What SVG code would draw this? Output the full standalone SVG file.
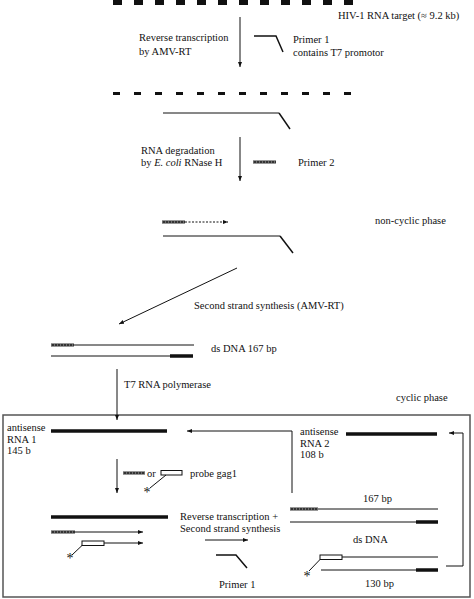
<svg xmlns="http://www.w3.org/2000/svg" width="474" height="599" viewBox="0 0 474 599">
<style>
.t{font-family:"Liberation Serif","Times New Roman",serif;font-size:10.5px;fill:#111}
.ast{font-family:"Liberation Serif","Times New Roman",serif;font-size:14px;fill:#111}
.ln{stroke:#111;stroke-width:1;fill:none}
.pr{stroke:#111;stroke-width:1.5;fill:none}
.thick{stroke:#111;stroke-width:3.5;fill:none}
.hatch{stroke:#333;stroke-width:3;fill:none}
.hdots{stroke:#aaa;stroke-width:1;stroke-dasharray:1 2;fill:none}
.probe{fill:#fff;stroke:#111;stroke-width:1}
.box{fill:none;stroke:#555;stroke-width:1.5}
.arr{stroke:#111;stroke-width:1;fill:none;marker-end:url(#ah)}
</style>
<defs>
<marker id="ah" viewBox="0 0 10 10" refX="10" refY="5" markerWidth="5" markerHeight="5" markerUnits="userSpaceOnUse" orient="auto"><path d="M0,1 L10,5 L0,9 z" fill="#111"/></marker>
</defs>
<rect width="474" height="599" fill="#fff"/>
<rect class="box" x="3" y="415" width="467" height="182"/>

<g id="rna-target">
<g fill="#111">
<rect x="113" y="0" width="9" height="5"/><rect x="134" y="0" width="9" height="5"/><rect x="155" y="0" width="9" height="5"/><rect x="176" y="0" width="9" height="5"/><rect x="197" y="0" width="9" height="5"/><rect x="218" y="0" width="9" height="5"/><rect x="239" y="0" width="9" height="5"/><rect x="260" y="0" width="9" height="5"/><rect x="281" y="0" width="9" height="5"/><rect x="302" y="0" width="9" height="5"/><rect x="323" y="0" width="9" height="5"/><rect x="344" y="0" width="9" height="5"/>
</g>
<text class="t" x="338" y="19">HIV-1 RNA target (≈ 9.2 kb)</text>
</g>

<g id="primer1-top">
<path class="pr" d="M254,36 H276 L283,52"/>
<text class="t" x="293" y="43">Primer 1</text>
<text class="t" x="293" y="56">contains T7 promotor</text>
</g>

<g id="hybrid">
<g fill="#111">
<rect x="113" y="92" width="7" height="3"/><rect x="134" y="92" width="7" height="3"/><rect x="155" y="92" width="7" height="3"/><rect x="176" y="92" width="7" height="3"/><rect x="197" y="92" width="7" height="3"/><rect x="218" y="92" width="7" height="3"/><rect x="239" y="92" width="7" height="3"/><rect x="260" y="92" width="7" height="3"/><rect x="281" y="92" width="7" height="3"/><rect x="302" y="92" width="7" height="3"/><rect x="323" y="92" width="7" height="3"/><rect x="344" y="92" width="7" height="3"/>
</g>
<path class="ln" d="M163,113 H279"/>
<path class="pr" d="M279,113 L290,129"/>
</g>

<g id="primer2">
<path class="hatch" d="M253,162 H276"/>
<path class="hdots" d="M253,162 H276"/>
<text class="t" x="298" y="166">Primer 2</text>
</g>

<g id="single-strand">
<path class="hatch" d="M162,222 H185"/>
<path class="hdots" d="M162,222 H185"/>
<path class="arr" d="M185,222 H228" stroke-dasharray="2 1.5"/>
<path class="ln" d="M163,236 H280"/>
<path class="pr" d="M280,236 L293,253"/>
<text class="t" x="375" y="224">non-cyclic phase</text>
</g>

<g id="dsdna167-top">
<path class="ln" d="M51,345 H194"/>
<path class="hatch" d="M51,345 H74"/>
<path class="hdots" d="M51,345 H74"/>
<path class="ln" d="M51,356 H193"/>
<path class="thick" d="M170,356 H193"/>
<text class="t" x="211" y="352">ds DNA 167 bp</text>
</g>

<g id="rna1">
<path class="thick" d="M51,431 H167"/>
<text class="t" x="7" y="431">antisense</text>
<text class="t" x="7" y="442.5">RNA 1</text>
<text class="t" x="7" y="454">145 b</text>
</g>

<g id="rna2">
<path class="thick" d="M346,434 H437"/>
<text class="t" x="300" y="435">antisense</text>
<text class="t" x="300" y="446.5">RNA 2</text>
<text class="t" x="300" y="458">108 b</text>
</g>

<g id="probes">
<path class="hatch" d="M123,473 H145"/>
<path class="hdots" d="M123,473 H145"/>
<text class="t" x="147" y="477">or</text>
<rect class="probe" x="161" y="470.5" width="21" height="4.5"/>
<path class="ln" d="M166,475 L150,488"/>
<text class="ast" x="143.5" y="497">*</text>
<text class="t" x="190" y="477">probe gag1</text>
</g>

<g id="hybrids-left">
<path class="thick" d="M51,517 H168"/>
<path class="hatch" d="M51,532 H75"/>
<path class="hdots" d="M51,532 H75"/>
<path class="arr" d="M75,532 H143"/>
<rect class="probe" x="82" y="541" width="22" height="4.5"/>
<path class="arr" d="M104,543 H143"/>
<path class="ln" d="M82,545.5 L72,555"/>
<text class="ast" x="66.5" y="563">*</text>
</g>

<g id="primer1-bottom">
<path class="pr" d="M216,555 H236 L247,568"/>
<text class="t" x="219" y="588">Primer 1</text>
</g>

<g id="dsdna-right">
<text class="t" x="363" y="501.5">167 bp</text>
<path class="ln" d="M290,509 H438"/>
<path class="hatch" d="M290,509 H318"/>
<path class="hdots" d="M290,509 H318"/>
<path class="ln" d="M290,522 H438"/>
<path class="thick" d="M416,522 H438"/>
<text class="t" x="353" y="543">ds DNA</text>
<rect class="probe" x="320" y="555" width="22" height="4.5"/>
<path class="ln" d="M342,557 H438"/>
<path class="ln" d="M320,559.5 L309,571"/>
<text class="ast" x="303.5" y="581">*</text>
<path class="ln" d="M321,570 H438"/>
<path class="thick" d="M416,570 H438"/>
<text class="t" x="365" y="586.5">130 bp</text>
</g>

<g id="labels">
<text class="t" x="139" y="41">Reverse transcription</text>
<text class="t" x="139" y="55">by AMV-RT</text>
<text class="t" x="141" y="154">RNA degradation</text>
<text class="t" x="141" y="166">by <tspan font-style="italic">E. coli</tspan> RNase H</text>
<text class="t" x="194" y="309">Second strand synthesis (AMV-RT)</text>
<text class="t" x="124" y="388">T7 RNA polymerase</text>
<text class="t" x="396" y="401">cyclic phase</text>
<text class="t" x="180" y="519.5">Reverse transcription +</text>
<text class="t" x="180" y="531.5">Second strand synthesis</text>
</g>

<g id="connectors">
<path class="arr" d="M240,17 V67"/>
<path class="arr" d="M240,137 V181"/>
<path class="arr" d="M237,268 L119,324"/>
<path class="arr" d="M117,369 V420"/>
<path class="arr" d="M117,459 V493"/>
<path class="arr" d="M292,493 V431 H187"/>
<path class="arr" d="M446,566 H463 V433 H449"/>
<path class="arr" d="M205,540 H248"/>
</g>
</svg>
